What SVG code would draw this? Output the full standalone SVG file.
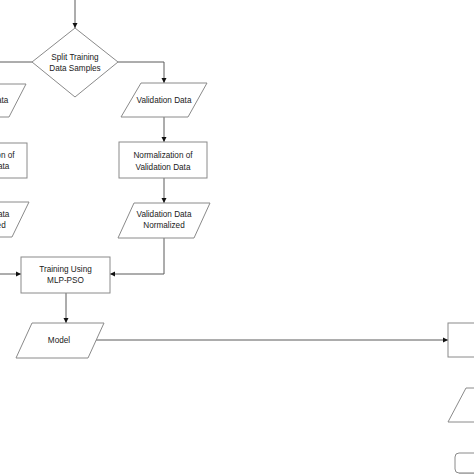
<svg xmlns="http://www.w3.org/2000/svg" width="474" height="474" viewBox="0 0 474 474">
<style>
.shape{fill:#fff;stroke:#8a8a8a;stroke-width:1}
.conn{fill:none;stroke:#5a5a5a;stroke-width:1}
text{font-family:"Liberation Sans",Arial,sans-serif;font-size:8.2px;fill:#1a1a1a;text-anchor:middle}
</style>
<defs>
<marker id="arr" markerUnits="userSpaceOnUse" markerWidth="6" markerHeight="6" refX="5" refY="3" orient="auto">
<path d="M0,0.5 L5,3 L0,5.5 z" fill="#111"/>
</marker>
</defs>
<rect width="474" height="474" fill="#fff"/>
<g id="connectors">
<path class="conn" d="M75,0 V28" marker-end="url(#arr)"/>
<path class="conn" d="M32,62 H0"/>
<path class="conn" d="M118,62 H164 V83" marker-end="url(#arr)"/>
<path class="conn" d="M164,117 V142" marker-end="url(#arr)"/>
<path class="conn" d="M164,178 V203" marker-end="url(#arr)"/>
<path class="conn" d="M164,238 V274 H110" marker-end="url(#arr)"/>
<path class="conn" d="M0,274 H21" marker-end="url(#arr)"/>
<path class="conn" d="M66,293 V323" marker-end="url(#arr)"/>
<path class="conn" d="M95,340 H448" marker-end="url(#arr)"/>
</g>
<g id="split">
<polygon class="shape" points="75,28 118,62 75,97 32,62"/>
<text x="75" y="60">Split Training</text>
<text x="75" y="71">Data Samples</text>
</g>
<g id="training-data">
<polygon class="shape" points="-44,84 26,84 9,117 -61,117"/>
<text x="-16" y="103">Training Data</text>
</g>
<g id="validation-data">
<polygon class="shape" points="141,83 207,83 188,117 121,117"/>
<text x="164" y="103">Validation Data</text>
</g>
<g id="norm-training">
<rect class="shape" x="-61" y="143" width="88" height="35"/>
<text x="-15" y="158">Normalization of</text>
<text x="-15" y="169">Training Data</text>
</g>
<g id="norm-validation">
<rect class="shape" x="119" y="142" width="88" height="36"/>
<text x="163" y="158">Normalization of</text>
<text x="163" y="170">Validation Data</text>
</g>
<g id="training-normalized">
<polygon class="shape" points="-47,202 29,202 12,237 -64,237"/>
<text x="-15" y="217">Training Data</text>
<text x="-15" y="228">Normalized</text>
</g>
<g id="validation-normalized">
<polygon class="shape" points="134,203 210,203 194,238 118,238"/>
<text x="164" y="217">Validation Data</text>
<text x="164" y="228">Normalized</text>
</g>
<g id="training-mlp">
<rect class="shape" x="21" y="257" width="89" height="36"/>
<text x="65.5" y="272">Training Using</text>
<text x="65.5" y="283">MLP-PSO</text>
</g>
<g id="model">
<polygon class="shape" points="32,323 104,323 88,358 16,358"/>
<text x="59" y="343">Model</text>
</g>
<g id="right-box">
<rect class="shape" x="448" y="323" width="88" height="34"/>
</g>
<g id="right-data">
<polygon class="shape" points="466,388 540,388 522,422 448,422"/>
</g>
<g id="right-end">
<rect x="455" y="453" width="80" height="20" rx="4" fill="#fff" stroke="#8a8a8a" stroke-width="1"/>
<path d="M459,473.5 H535" stroke="#aaa" stroke-width="1.5" fill="none"/>
</g>
</svg>
